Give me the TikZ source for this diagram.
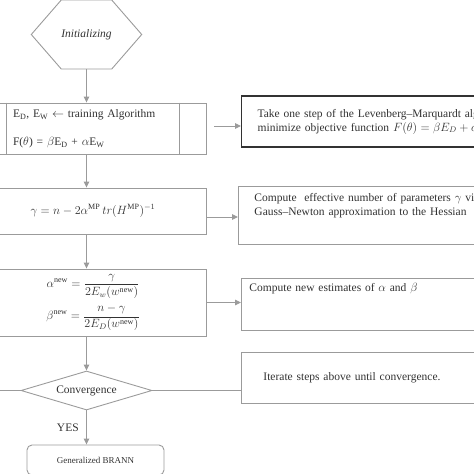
\documentclass[tikz,border=0pt]{standalone}
\usepackage{fontspec}
\setmainfont{Liberation Serif}
\usetikzlibrary{arrows.meta,shapes.geometric,shapes.symbols}

\definecolor{linegray}{RGB}{155,155,155}
\definecolor{textgray}{RGB}{50,50,50}

\tikzset{
  flow/.style={draw=linegray, line width=0.9pt, text=textgray, font=\fontsize{11.5}{14}\selectfont},
  procbox/.style={flow, rectangle, minimum width=226pt, inner sep=0pt},
  sidebox/.style={flow, rectangle, align=left, text width=300pt, inner xsep=16pt},
  arrow/.style={draw=linegray, line width=0.9pt, -{Triangle[length=6pt,width=5.5pt]}},
  link/.style={draw=linegray, line width=0.9pt},
  tag/.style={text=textgray, font=\fontsize{11.5}{14}\selectfont},
}

\begin{document}
\begin{tikzpicture}[x=1pt, y=-1pt]
    \useasboundingbox (0,0) rectangle (474,474);
    \clip (0,0) rectangle (474,474);

    % left column
    \node[flow, signal, signal to=east and west, signal pointer angle=98, minimum width=107pt, minimum height=69pt, inner sep=0pt, font=\fontsize{11.5}{14}\selectfont\itshape] (init) at (86.5,34.5) {Initializing};
    \node[procbox, minimum height=51pt, align=left, text width=160pt, inner xsep=33pt] (train) at (93,128.5)
        {E\textsubscript{D}, E\textsubscript{W} $\leftarrow$ training Algorithm\\[14pt]
         F($\theta$) = $\beta$E\textsubscript{D} + $\alpha$E\textsubscript{W}};
    \draw[link] ([xshift=27pt]train.north west) -- ([xshift=27pt]train.south west);
    \draw[link] ([xshift=-27pt]train.north east) -- ([xshift=-27pt]train.south east);
    \node[procbox, minimum height=46pt] (gamma) at (93,211)
        {$\gamma = n - 2\alpha^{\mathrm{MP}}\,tr(H^{\mathrm{MP}})^{-1}$};
    \node[procbox, minimum height=67pt, align=center] (update) at (93,302.5)
        {$\displaystyle\alpha^{\mathrm{new}} = \frac{\gamma}{2E_w(w^{\mathrm{new}})}$\\[5pt]
         $\displaystyle\beta^{\mathrm{new}} = \frac{n-\gamma}{2E_D(w^{\mathrm{new}})}$};
    \node[flow, diamond, aspect=3.36, minimum width=131pt, minimum height=39pt, inner sep=0pt] (conv) at (86.5,390.5) {Convergence};
    \node[flow, rounded corners=5pt, minimum width=137pt, minimum height=30pt, font=\fontsize{9}{11}\selectfont] (brann) at (95.5,460) {Generalized BRANN};

    % right column
    \node[sidebox, anchor=west, draw=textgray, line width=1.3pt, minimum height=51pt] (lm) at (241,121.5)
        {Take one step of the Levenberg--Marquardt algorithm to\\
         minimize objective function $F(\theta) = \beta E_D + \alpha E_W$};
    \node[sidebox, anchor=north west, inner ysep=7pt, text depth=36pt] (hess) at (238,186)
        {Compute\ \ effective number of parameters $\gamma$ via the\\
         Gauss--Newton approximation to the Hessian};
    \node[sidebox, anchor=north west, inner xsep=8pt, inner ysep=5pt, text depth=34pt] (est) at (241,278)
        {Compute new estimates of $\alpha$ and $\beta$};
    \node[sidebox, anchor=west, inner xsep=22pt, minimum height=51pt] (iter) at (241,377.5)
        {Iterate steps above until convergence.};

    % connectors
    \draw[arrow] (init.south) -- (init.south |- train.north);
    \draw[arrow] (train.south -| init.south) -- (gamma.north -| init.south);
    \draw[arrow] (gamma.south -| init.south) -- (update.north -| init.south);
    \draw[arrow] (update.south -| init.south) -- (conv.north);
    \draw[arrow] (conv.south) -- node[tag, left, xshift=-4pt] (yes) {YES} (conv.south |- brann.north);

    \draw[arrow] ([xshift=8pt,yshift=2.5pt]train.east) -- ([yshift=2.5pt]train.east -| lm.west);
    \draw[arrow] ([yshift=-6pt]gamma.east) -- ([yshift=-6pt]gamma.east -| hess.west);
    \draw[arrow] (update.east) -- (update.east -| est.west);
    \draw[link] (conv.east) -- (conv.east -| iter.west);
    \coordinate (loop) at (-30,390.5);
    \draw[link] (conv.west) -- (loop);
\end{tikzpicture}
\end{document}
